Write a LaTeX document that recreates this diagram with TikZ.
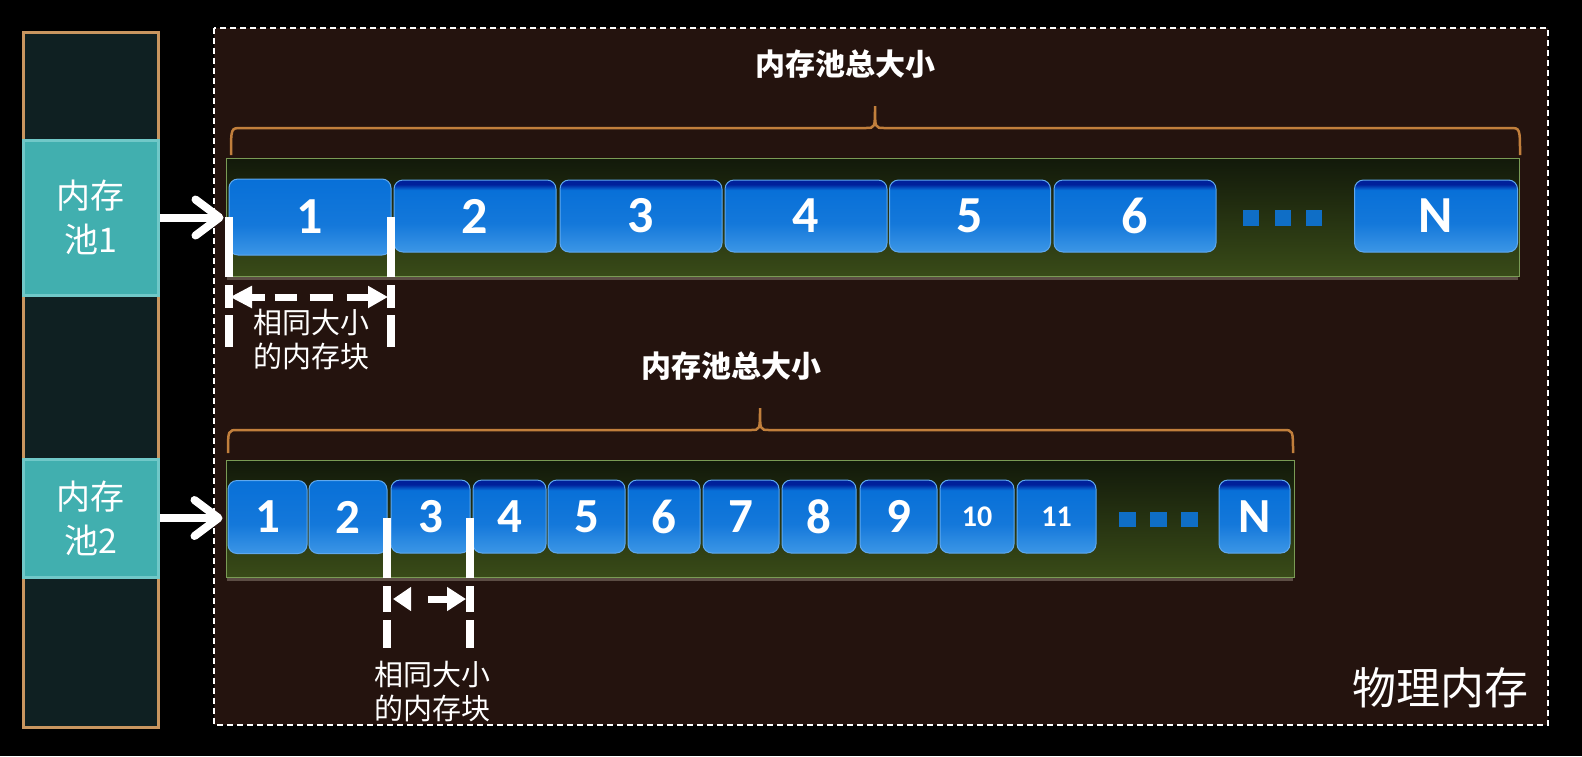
\documentclass[tikz,border=0pt]{standalone}
\usepackage{fontspec}
\newfontfamily\cjk{Noto Sans CJK SC}
\newfontfamily\numf{Carlito}
\usetikzlibrary{arrows.meta}
\definecolor{framebg}{HTML}{24130E}
\definecolor{colbg}{HTML}{0F2022}
\definecolor{tan}{HTML}{C8955F}
\definecolor{teal}{HTML}{41AFAF}
\definecolor{tealedge}{HTML}{70C8C8}
\definecolor{striptop}{HTML}{12190A}
\definecolor{stripbot}{HTML}{394B18}
\definecolor{stripedge}{HTML}{7A9B55}
\definecolor{bracec}{HTML}{C17F3C}
\definecolor{bdark}{HTML}{00209A}
\definecolor{bmid}{HTML}{0870D8}
\definecolor{bmid2}{HTML}{1478DA}
\definecolor{blight}{HTML}{3C96E6}
\definecolor{bedge}{HTML}{5FA8EE}
\definecolor{dotc}{HTML}{0F6EC6}
\definecolor{glowc}{HTML}{6B5C52}
\pgfdeclareverticalshading{blkshade}{100bp}{color(0bp)=(blight); color(25bp)=(blight); color(45bp)=(bmid2); color(68bp)=(bmid); color(72bp)=(bdark); color(75bp)=(bdark); color(100bp)=(bdark)}
\pgfdeclareverticalshading{blkshadeA}{100bp}{color(0bp)=(blight); color(25bp)=(blight); color(45bp)=(bmid2); color(75bp)=(bmid); color(100bp)=(bmid)}
\pgfdeclareverticalshading{stripshade}{100bp}{color(0bp)=(stripbot); color(25bp)=(stripbot); color(75bp)=(striptop); color(100bp)=(striptop)}
\tikzset{
  blk/.style={shading=blkshade, draw=bedge, line width=1pt, rounded corners=9pt, inner sep=0pt,
    minimum height=72pt, text=white, font=\numf\bfseries\fontsize{52}{52}\selectfont},
  blkA/.style={blk, shading=blkshadeA},
  blk2/.style={blk, minimum height=73pt, font=\numf\bfseries\fontsize{49}{49}\selectfont},
  blk2A/.style={blk2, shading=blkshadeA},
  small/.style={font=\numf\bfseries\fontsize{30}{30}\selectfont},
  strip/.style={shading=stripshade, draw=stripedge, line width=1pt, inner sep=0pt},
  pool/.style={fill=teal, draw=tealedge, line width=3pt, inner sep=0pt, text=white,
    align=center, font=\cjk\fontsize{34}{44}\selectfont},
  bigarrow/.style={draw=white, line width=8pt, -{Straight Barb[length=24pt,width=36pt,line cap=round,line join=round]}, shorten >=5pt},
  vdash/.style={draw=white, line width=8pt},
  harrow/.style={draw=white, line width=7pt, {Triangle[length=22pt,width=21pt]}-{Triangle[length=20pt,width=21pt]}},
  harrowB/.style={draw=white, line width=7pt, {Triangle[length=18pt,width=23pt]}-{Triangle[length=19pt,width=23pt]}},
  brace/.style={draw=bracec, line width=2.5pt},
  title/.style={text=white, font=\cjk\bfseries\fontsize{30}{30}\selectfont},
  note/.style={text=white, align=center, font=\cjk\fontsize{29}{34}\selectfont},
}
\begin{document}
\begin{tikzpicture}[x=1pt,y=-1pt]
\fill[black] (0,0) rectangle (1582,756);
\useasboundingbox (0,0) rectangle (1582,756);
% left column
\draw[fill=colbg, draw=tan, line width=3pt] (23,32) rectangle (158,727);
\node[pool, minimum width=135pt, minimum height=155pt] (p1) at (90.5,217.5) {内存\\池1};
\node[pool, minimum width=135pt, minimum height=118pt] (p2) at (90.5,518) {内存\\池2};
% frame
\draw[fill=framebg, draw=white, line width=1.5pt, dash pattern=on 6pt off 4pt] (214,28) rectangle (1548,725);
\node[text=white, font=\cjk\fontsize{44}{44}\selectfont] (phys) at (1440,688) {物理内存};
% titles
\node[title] (t1) at (845,64) {内存池总大小};
\node[title] (t2) at (731,366) {内存池总大小};
% braces
\draw[brace] (231,155) .. controls (231,128) .. (241,128) -- (866,128) .. controls (875,128) .. (875,106)
  .. controls (875,128) .. (884,128) -- (1510,128) .. controls (1520,128) .. (1520,155);
\draw[brace] (228,453) .. controls (228,430) .. (238,430) -- (751,430) .. controls (760,430) .. (760,408)
  .. controls (760,430) .. (769,430) -- (1283,430) .. controls (1293,430) .. (1293,453);
% strips
\draw[glowc, line width=3pt, opacity=0.8] (227,278.5) -- (1518,278.5);
\draw[glowc, line width=3pt, opacity=0.8] (227,579.5) -- (1293,579.5);
\node[strip, minimum width=1293pt, minimum height=118pt] (s1) at (872.5,217) {};
\node[strip, minimum width=1068pt, minimum height=117pt] (s2) at (760,518.5) {};
% row 1 blocks
\node[blkA, minimum width=162pt, minimum height=76pt] (a1) at (310,217) {1};
\node[blk, minimum width=162pt] (a2) at (475,216) {2};
\node[blk, minimum width=162pt] (a3) at (641,216) {3};
\node[blk, minimum width=162pt] (a4) at (806,216) {4};
\node[blk, minimum width=161pt] (a5) at (970,216) {5};
\node[blk, minimum width=162pt] (a6) at (1135,216) {6};
\node[blk, minimum width=163pt] (aN) at (1436,216) {N};
\fill[dotc] (1243,210) rectangle (1259,226);
\fill[dotc] (1275,210) rectangle (1291,226);
\fill[dotc] (1306,210) rectangle (1322,226);
% row 2 blocks
\node[blk2A, minimum width=79pt] (c1) at (267.5,517) {1};
\node[blk2A, minimum width=78pt] (c2) at (348,517) {2};
\node[blk2, minimum width=79pt] (c3) at (430.5,516.5) {3};
\node[blk2, minimum width=73pt] (c4) at (509.5,516.5) {4};
\node[blk2, minimum width=77pt] (c5) at (586.5,516.5) {5};
\node[blk2, minimum width=72pt] (c6) at (664,516.5) {6};
\node[blk2, minimum width=76pt] (c7) at (741,516.5) {7};
\node[blk2, minimum width=74pt] (c8) at (819,516.5) {8};
\node[blk2, minimum width=77pt] (c9) at (898.5,516.5) {9};
\node[blk2, small, minimum width=74pt] (c10) at (977,516.5) {10};
\node[blk2, small, minimum width=79pt] (c11) at (1056.5,516.5) {11};
\node[blk2, minimum width=71pt] (cN) at (1254.5,516.5) {N};
\fill[dotc] (1119,512) rectangle (1136,527);
\fill[dotc] (1150,512) rectangle (1167,527);
\fill[dotc] (1181,512) rectangle (1198,527);
% arrows from pools
\draw[bigarrow] (p1.east) -- (p1.east -| a1.west);
\draw[bigarrow] (p2.east) -- (p2.east -| c1.west);
% dimension marks row 1
\coordinate (v1a) at (229,217); \coordinate (v1b) at (229,347);
\coordinate (v2a) at (391,217); \coordinate (v2b) at (391,347);
\draw[vdash, dash pattern=on 60pt off 8pt on 23pt off 7pt on 40pt] (v1a) -- (v1b);
\draw[vdash, dash pattern=on 60pt off 8pt on 23pt off 7pt on 40pt] (v2a) -- (v2b);
\coordinate (h1a) at (230,297); \coordinate (h1b) at (388,297);
\draw[harrow, dash pattern=on 14pt off 10pt on 22pt off 13pt on 23pt off 14pt on 40pt] (h1a) -- (h1b);
\node[note] (n1) at (311,339) {相同大小\\的内存块};
% dimension marks row 2
\coordinate (w1a) at (387,518); \coordinate (w1b) at (387,648);
\coordinate (w2a) at (470,518); \coordinate (w2b) at (470,648);
\draw[vdash, dash pattern=on 60pt off 8pt on 26pt off 8pt on 40pt] (w1a) -- (w1b);
\draw[vdash, dash pattern=on 60pt off 8pt on 26pt off 8pt on 40pt] (w2a) -- (w2b);
\coordinate (h2a) at (393,599); \coordinate (h2b) at (466,599);
\draw[harrowB, dash pattern=on 0pt off 18pt on 20pt off 40pt] (h2a) -- (h2b);
\node[note] (n2) at (432,691.5) {相同大小\\的内存块};
\end{tikzpicture}
\end{document}
